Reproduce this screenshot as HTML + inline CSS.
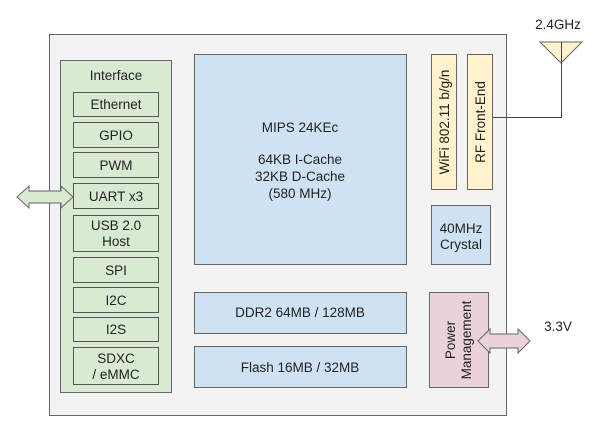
<!DOCTYPE html>
<html><head><meta charset="utf-8"><style>
html,body{margin:0;padding:0;background:#fff;}
svg{display:block;}
text{font-family:"Liberation Sans",sans-serif;font-size:13.5px;fill:#222;}
</style></head><body>
<svg width="600" height="435" viewBox="0 0 600 435" xmlns="http://www.w3.org/2000/svg">
<rect x="49.5" y="34.5" width="457" height="381" fill="#f3f3f3" stroke="#666" stroke-width="1"/>
<rect x="60.5" y="60.5" width="111" height="332" fill="#d9ead3" stroke="#666"/>
<text x="116" y="80" text-anchor="middle">Interface</text>
<g fill="#d9ead3" stroke="#555">
<rect x="73.5" y="92.5" width="85" height="24"/>
<rect x="73.5" y="122.5" width="85" height="25"/>
<rect x="73.5" y="152.5" width="85" height="25"/>
<rect x="73.5" y="183.5" width="85" height="25"/>
<rect x="73.5" y="215.5" width="85" height="36"/>
<rect x="73.5" y="257.5" width="85" height="25"/>
<rect x="73.5" y="287.5" width="85" height="25"/>
<rect x="73.5" y="317.5" width="85" height="24"/>
<rect x="73.5" y="347.5" width="85" height="37"/>
</g>
<g text-anchor="middle">
<text x="116" y="109">Ethernet</text>
<text x="116" y="140">GPIO</text>
<text x="116" y="170">PWM</text>
<text x="116" y="201">UART x3</text>
<text x="116" y="230">USB 2.0</text>
<text x="116" y="246">Host</text>
<text x="116" y="275">SPI</text>
<text x="116" y="305">I2C</text>
<text x="116" y="334">I2S</text>
<text x="116" y="363">SDXC</text>
<text x="116" y="379">/ eMMC</text>
</g>
<polygon points="17,197 29,186 29,191 61,191 61,186 73,197 61,208 61,203 29,203 29,208" fill="#d9ead3" stroke="#666"/>
<rect x="194.5" y="54.5" width="212" height="210" fill="#cfe2f3" stroke="#666"/>
<g text-anchor="middle">
<text x="300" y="132">MIPS 24KEc</text>
<text x="300" y="164">64KB I-Cache</text>
<text x="300" y="181">32KB D-Cache</text>
<text x="300" y="198">(580 MHz)</text>
</g>
<rect x="194.5" y="292.5" width="212" height="41" fill="#cfe2f3" stroke="#666"/>
<text x="300" y="317" text-anchor="middle">DDR2 64MB / 128MB</text>
<rect x="194.5" y="346.5" width="212" height="41" fill="#cfe2f3" stroke="#666"/>
<text x="300" y="372" text-anchor="middle">Flash 16MB / 32MB</text>
<rect x="431.5" y="54.5" width="25" height="135" fill="#fff2cc" stroke="#666"/>
<text transform="translate(449,122) rotate(-90)" text-anchor="middle">WiFi 802.11 b/g/n</text>
<rect x="467.5" y="54.5" width="25" height="135" fill="#fff2cc" stroke="#666"/>
<text transform="translate(485,122) rotate(-90)" text-anchor="middle">RF Front-End</text>
<rect x="431.5" y="205.5" width="59" height="59" fill="#cfe2f3" stroke="#666"/>
<text x="461" y="233" text-anchor="middle">40MHz</text>
<text x="461" y="249" text-anchor="middle">Crystal</text>
<rect x="429.5" y="292.5" width="59" height="95" fill="#ead1dc" stroke="#666"/>
<text transform="translate(455,340) rotate(-90)" text-anchor="middle">Power</text>
<text transform="translate(471,340) rotate(-90)" text-anchor="middle">Management</text>
<polygon points="478,341 490,329 490,334 518,334 518,329 530,341 518,353 518,348 490,348 490,353" fill="#ead1dc" stroke="#666"/>
<text x="558" y="331" text-anchor="middle">3.3V</text>
<polyline points="493,117.5 561.5,117.5 561.5,63" fill="none" stroke="#444"/>
<polygon points="540,42 582,42 561,63" fill="#fff2cc" stroke="#666"/>
<line x1="561.5" y1="42" x2="561.5" y2="63" stroke="#444"/>
<text x="558" y="29" text-anchor="middle">2.4GHz</text>
</svg>
</body></html>
